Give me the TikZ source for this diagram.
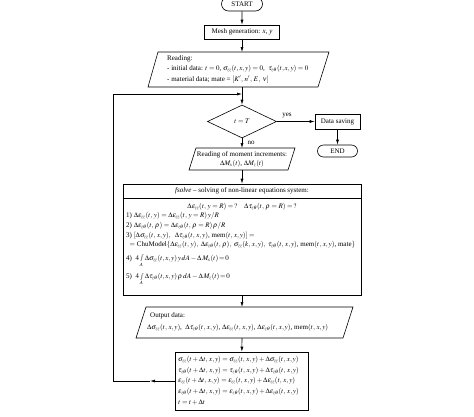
\documentclass[tikz,border=0pt]{standalone}
\usepackage{mathptmx}
\usepackage[no-math]{fontspec}
\setmainfont{Liberation Serif}
\usetikzlibrary{shapes.misc,shapes.geometric,arrows.meta}
\begin{document}
\begin{tikzpicture}[x=1pt,y=-1pt,font=\fontsize{7}{8.5}\selectfont,
  line/.style={line width=0.6pt},
  arr/.style={line width=0.6pt,-{Latex[length=5pt,width=3pt]}},
  shapebox/.style={draw,line width=0.6pt,fill=white,inner sep=0pt},
  txt/.style={inner sep=0pt,anchor=west}]
\useasboundingbox (0,0) rectangle (474,416);

% START / mesh
\node[shapebox,rounded rectangle,minimum width=41pt,minimum height=14pt] (start) at (242,4) {START};
\node[shapebox,minimum width=75pt,minimum height=14pt] (mesh) at (242,32) {Mesh generation: \textit{x}, \textit{y}};

% Reading parallelogram
\draw[line] (158,52) -- (329,52) -- (318,87) -- (148,87) -- cycle;
\coordinate (readT) at (242,52);
\coordinate (readB) at (242,87);
\node[inner sep=0pt,anchor=north west,align=left,font=\fontsize{7}{10.5}\selectfont] (readtxt) at (167,55)
 {Reading:\\
  - initial data: $t=0$, $\sigma_{zz}(t,x,y)=0$, \ $\tau_{z\theta}(t,x,y)=0$\\
  - material data; mate = $[K',\,n',\,E,\;\nu]$};

% decision
\node[shapebox,diamond,minimum width=69pt,minimum height=33pt] (dec) at (242,121.5) {$t=T$};
\node[shapebox,minimum width=45pt,minimum height=15pt] (save) at (337.5,121.5) {Data saving};
\node[shapebox,rounded rectangle,minimum width=40pt,minimum height=12pt] (end) at (337.5,151) {END};
\node[inner sep=0pt] (yes) at (287,116) {yes};
\node[inner sep=0pt] (no) at (251,143) {no};

% moment increments parallelogram
\draw[line] (196,148) -- (295,148) -- (288,170) -- (189,170) -- cycle;
\coordinate (momT) at (242,148);
\coordinate (momB) at (242,170);
\node[inner sep=0pt,align=center] (momtxt) at (242,159.5)
 {Reading of moment increments:\\ $\Delta M_x(t)$, $\Delta M_z(t)$};

% fsolve box
\node[shapebox,minimum width=238pt,minimum height=111pt] (fs) at (242,239.5) {};
\draw[line] (fs.west |- 0,198) -- (fs.east |- 0,198);
\node[inner sep=0pt] (fshead) at (242,191) {\textit{fsolve} -- solving of non-linear equations system:};
\node[inner sep=0pt] (u0) at (242,206.5) {$\Delta\varepsilon_{zz}(t,\,y=R)=\,?\quad\Delta\tau_{z\theta}(t,\,\rho=R)=\,?$};
\node[txt] (l1) at (126,216) {1) $\Delta\varepsilon_{zz}(t,\,y)=\Delta\varepsilon_{zz}(t,\,y=R)\,y/R$};
\node[txt] (l2) at (126,226) {2) $\Delta\varepsilon_{z\theta}(t,\,\rho)=\Delta\varepsilon_{z\theta}(t,\,\rho=R)\,\rho/R$};
\node[txt] (l3) at (126,235.5) {3) $[\Delta\sigma_{zz}(t,\,x,y),\ \ \Delta\tau_{z\theta}(t,\,x,y)$, mem$(t,\,x,y)]=$};
\node[txt] (l3b) at (126,245) {\ \ $=$ ChuModel$\{\Delta\varepsilon_{zz}(t,\,y),\ \Delta\varepsilon_{z\theta}(t,\,\rho),\ \sigma_{zz}(k,\,x,y),\ \tau_{z\theta}(t,\,x,y)$, mem$(t,\,x,y)$, mate$\}$};
\node[txt] (l4) at (126,261) {4) \ $4\int\limits_A\Delta\sigma_{zz}(t,x,y)\,y\,dA-\Delta\,M_x(t)\!=\!0$};
\node[txt] (l5) at (126,279.5) {5) \ $4\int\limits_A\Delta\tau_{z\theta}(t,x,y)\,\rho\,dA-\Delta\,M_z(t)\!=\!0$};

% output parallelogram
\draw[line] (146,307) -- (353,307) -- (343,338) -- (136,338) -- cycle;
\coordinate (outT) at (242,307);
\coordinate (outB) at (242,338);
\node[txt] (out1) at (150,316) {Output data:};
\node[txt] (out2) at (147,328) {$\Delta\sigma_{zz}(t,\,x,y)$, \ $\Delta\tau_{z\theta}(t,\,x,y)$, $\Delta\varepsilon_{zz}(t,\,x,y)$, $\Delta\varepsilon_{z\theta}(t,\,x,y)$, mem$(t,\,x,y)$};

% update box
\node[shapebox,minimum width=133pt,minimum height=58pt] (upd) at (241.5,381) {};
\node[inner sep=0pt,anchor=north west,align=left,font=\fontsize{7}{10.7}\selectfont] (updtxt) at (178,356)
 {$\sigma_{zz}(t+\Delta t,\,x,y)=\sigma_{zz}(t,\,x,y)+\Delta\sigma_{zz}(t,\,x,y)$\\
  $\tau_{z\theta}(t+\Delta t,\,x,y)=\tau_{z\theta}(t,\,x,y)+\Delta\tau_{z\theta}(t,\,x,y)$\\
  $\varepsilon_{zz}(t+\Delta t,\,x,y)=\varepsilon_{zz}(t,\,x,y)+\Delta\varepsilon_{zz}(t,\,x,y)$\\
  $\varepsilon_{z\theta}(t+\Delta t,\,x,y)=\varepsilon_{z\theta}(t,\,x,y)+\Delta\varepsilon_{z\theta}(t,\,x,y)$\\
  $t=t+\Delta t$};

% connectors
\draw[arr] (start) -- (mesh);
\draw[arr] (mesh) -- (readT);
\draw[arr] (readB) -- (dec);
\draw[arr] (dec) -- (save);
\draw[arr] (save) -- (end);
\draw[arr] (dec) -- (momT);
\draw[arr] (momB) -- (fs);
\draw[arr] (fs) -- (outT);
\draw[arr] (outB) -- (upd);

% loop back
\coordinate (la) at (150,381);
\coordinate (lb) at (113,381);
\coordinate (lt) at (113,94);
\coordinate (join) at (242,94);
\draw[arr] (upd.west) -- (la);
\draw[line] (la) -- (lb) -- (lt);
\draw[arr] (lt) -- (join);
\end{tikzpicture}
\end{document}
